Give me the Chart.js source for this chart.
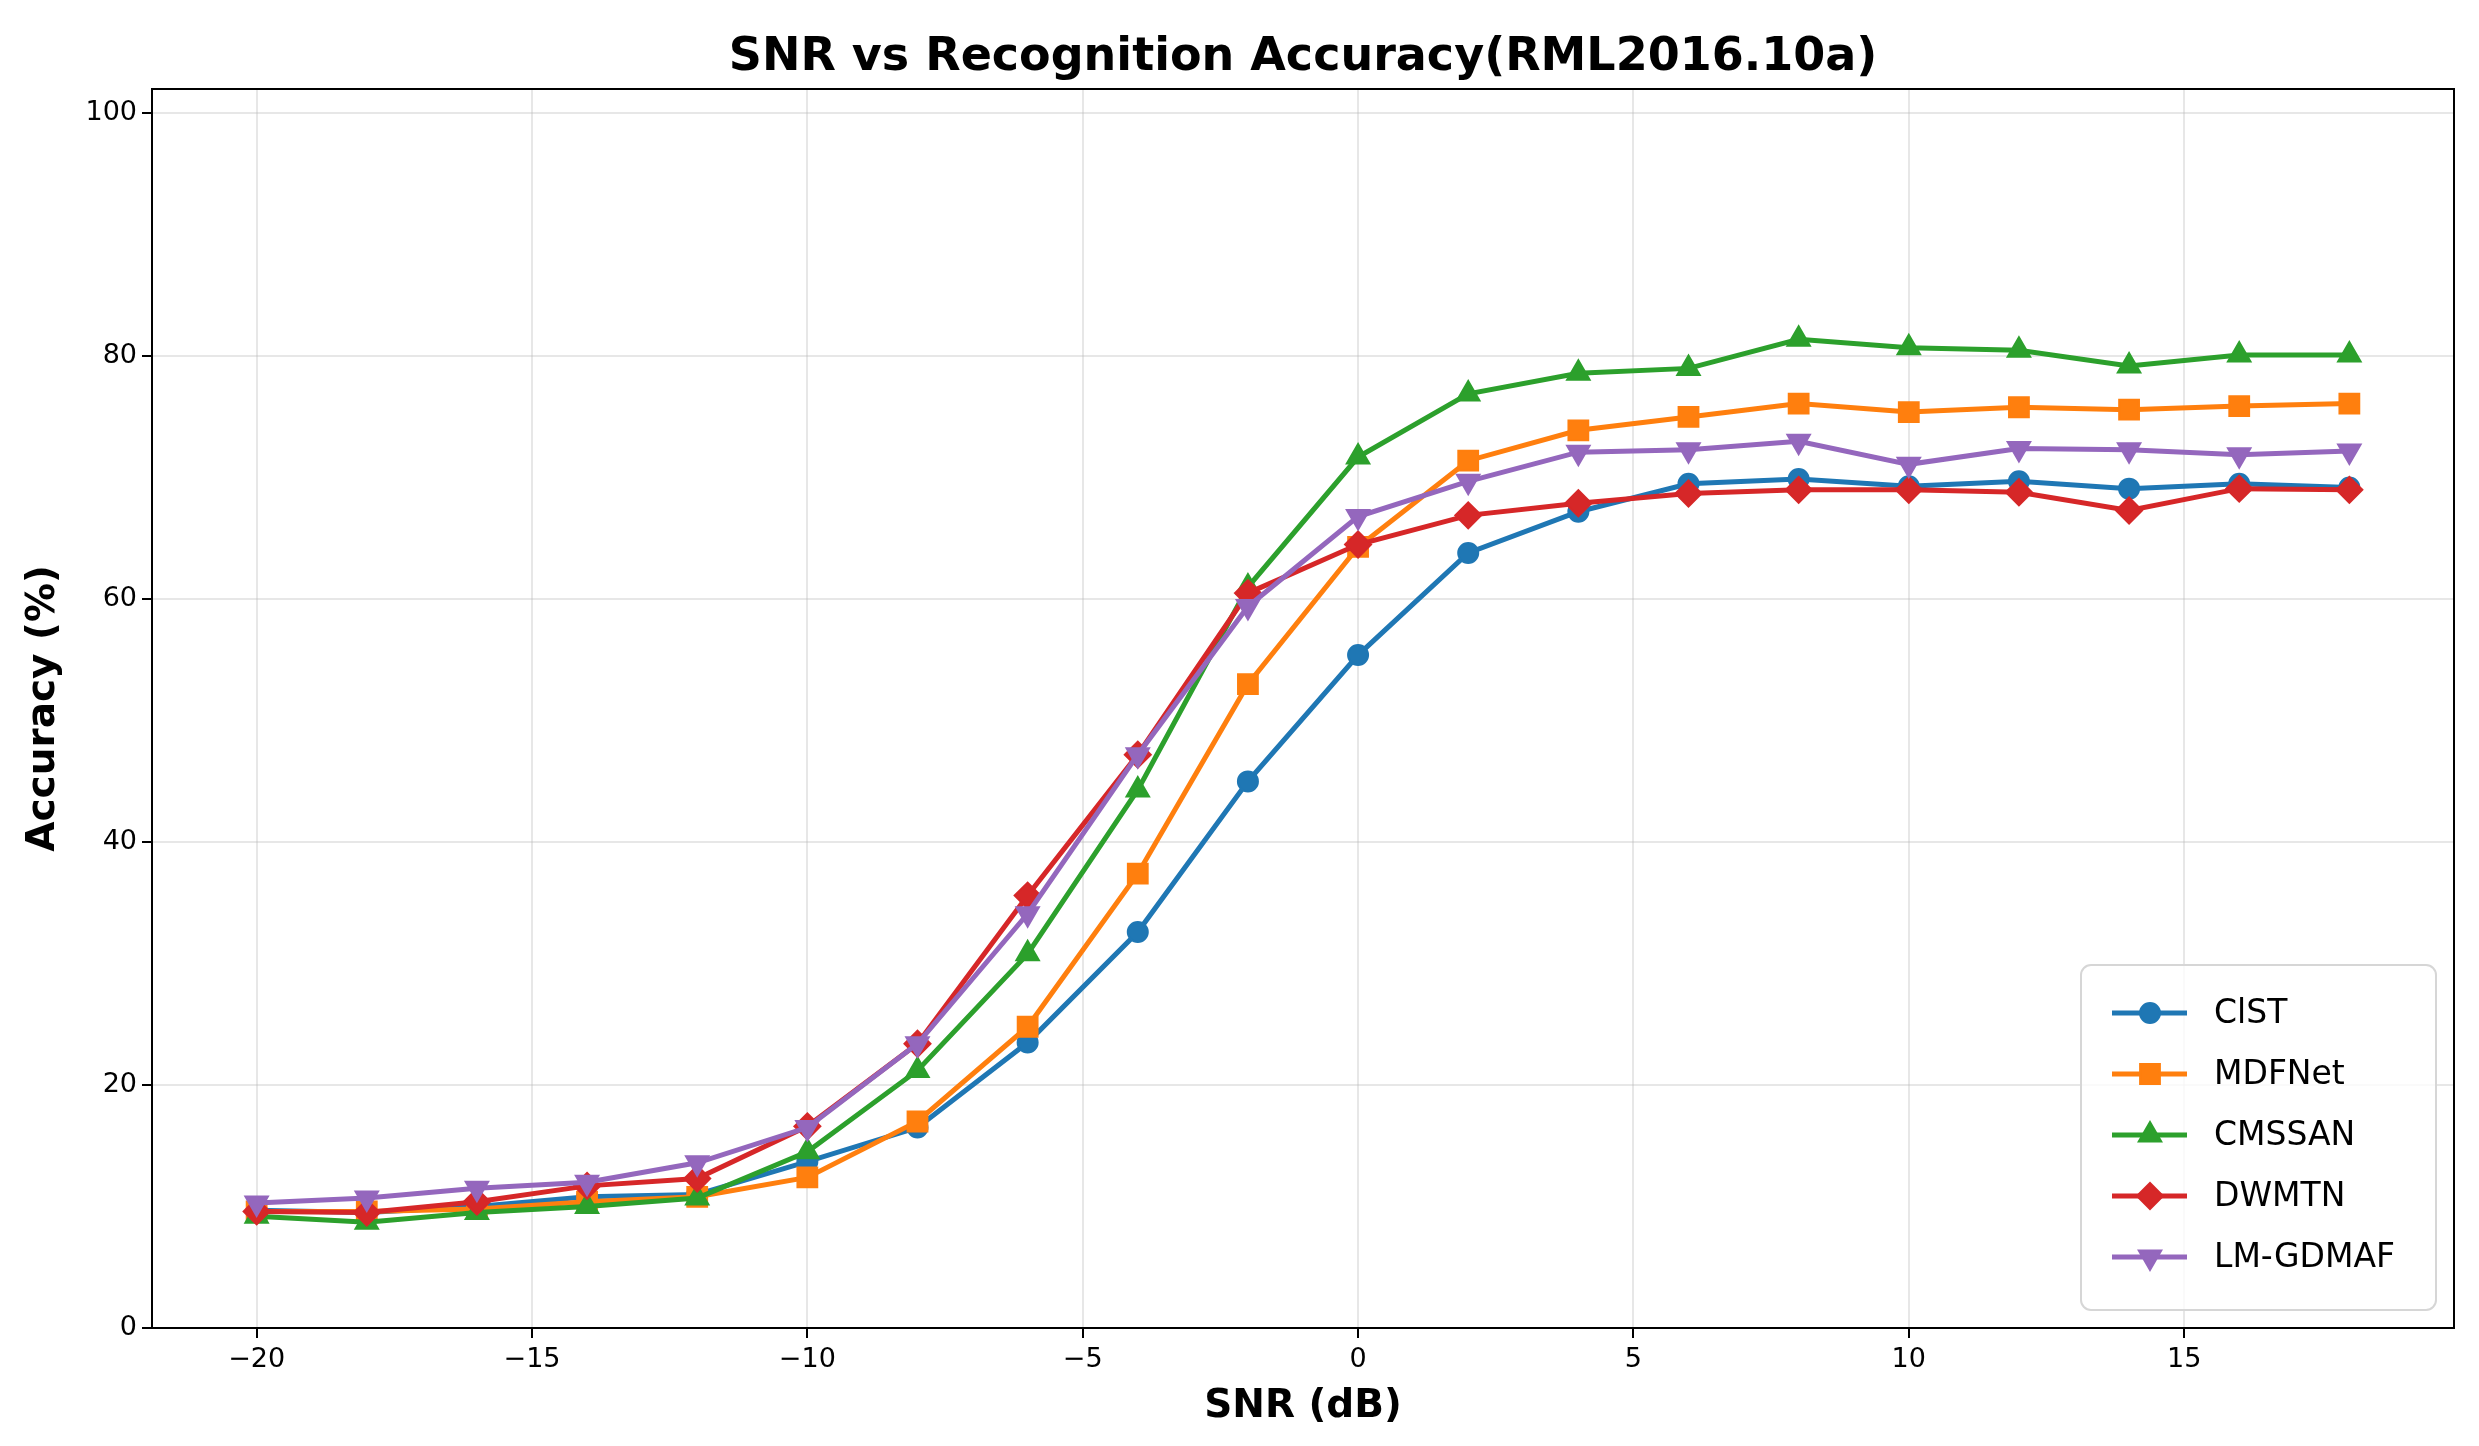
<!DOCTYPE html>
<html>
<head>
<meta charset="utf-8">
<title>SNR vs Recognition Accuracy</title>
<script src="https://cdn.jsdelivr.net/npm/chart.js@4.4.1/dist/chart.umd.min.js"></script>
<style>
	html, body { margin: 0; padding: 0; background: #fff; }
	canvas { display: block; }
</style>
</head>
<body>
<canvas id="acc-chart" width="2479" height="1446"></canvas>
<script>
// SNR points (dB)
const snr = [-20, -18, -16, -14, -12, -10, -8, -6, -4, -2, 0, 2, 4, 6, 8, 10, 12, 14, 16, 18];

// accuracy (%) per model
const cist    = [9.7, 9.5, 10.0, 10.8, 11.0, 13.7, 16.5, 23.5, 32.6, 45.0, 55.4, 63.8, 67.2, 69.5, 69.9, 69.3, 69.7, 69.1, 69.5, 69.2];
const mdfnet  = [9.6, 9.6, 9.8, 10.4, 10.8, 12.4, 17.0, 24.8, 37.4, 53.0, 64.3, 71.4, 73.9, 75.0, 76.1, 75.4, 75.8, 75.6, 75.9, 76.1];
const cmssan  = [9.2, 8.7, 9.5, 10.0, 10.7, 14.5, 21.2, 30.8, 44.3, 61.0, 71.7, 76.9, 78.6, 79.0, 81.4, 80.7, 80.5, 79.2, 80.1, 80.1];
const dwmtn   = [9.6, 9.5, 10.4, 11.7, 12.3, 16.6, 23.4, 35.6, 47.2, 60.5, 64.5, 66.9, 67.9, 68.7, 69.0, 69.0, 68.8, 67.3, 69.1, 69.0];
const lmgdmaf = [10.3, 10.7, 11.5, 12.0, 13.6, 16.5, 23.4, 34.1, 47.2, 59.4, 66.8, 69.7, 72.1, 72.3, 73.0, 71.1, 72.4, 72.3, 71.9, 72.2];

const xTicks = [-20, -15, -10, -5, 0, 5, 10, 15];
const yTicks = [0, 20, 40, 60, 80, 100];

const FONT = "'DejaVu Sans', 'Liberation Sans', sans-serif";

const toPoints = (vals) => snr.map((s, i) => ({ x: s, y: vals[i] }));

function series(label, vals, color, style, radius, rotation, order) {
	return {
		label: label,
		data: toPoints(vals),
		borderColor: color,
		backgroundColor: color,
		borderWidth: 5,
		pointStyle: style,
		pointRadius: radius,
		pointRotation: rotation,
		pointBackgroundColor: color,
		pointBorderColor: color,
		pointBorderWidth: 2,
		tension: 0,
		order: order
	};
}

// black box round the plot, like matplotlib spines
const frame = {
	id: 'frame',
	afterDatasetsDraw(chart) {
		const { ctx, chartArea: a } = chart;
		ctx.save();
		ctx.strokeStyle = '#000';
		ctx.lineWidth = 2;
		ctx.strokeRect(a.left, a.top, a.right - a.left, a.bottom - a.top);
		ctx.restore();
	}
};

// title centred over the plot area
const plotTitle = {
	id: 'plotTitle',
	afterDraw(chart) {
		const { ctx, chartArea: a } = chart;
		ctx.save();
		ctx.fillStyle = '#000';
		ctx.font = 'bold 46px ' + FONT;
		ctx.textAlign = 'center';
		ctx.textBaseline = 'middle';
		ctx.fillText('SNR vs Recognition Accuracy(RML2016.10a)', (a.left + a.right) / 2, 58);
		ctx.restore();
	}
};

// legend box in the lower right corner of the plot
const boxLegend = {
	id: 'boxLegend',
	afterDraw(chart) {
		const { ctx, chartArea: a } = chart;
		const boxW = 355, boxH = 345, rowH = 61;
		const x0 = a.right - 18 - boxW;
		const y0 = a.bottom - 18 - boxH;
		ctx.save();
		ctx.beginPath();
		if (ctx.roundRect) ctx.roundRect(x0, y0, boxW, boxH, 10);
		else ctx.rect(x0, y0, boxW, boxH);
		ctx.fillStyle = 'rgba(255,255,255,0.8)';
		ctx.fill();
		ctx.strokeStyle = '#d6d6d6';
		ctx.lineWidth = 2;
		ctx.stroke();

		chart.data.datasets.forEach((ds, i) => {
			const cy = y0 + 48 + i * rowH;
			ctx.strokeStyle = ds.borderColor;
			ctx.lineWidth = 5;
			ctx.beginPath();
			ctx.moveTo(x0 + 31, cy);
			ctx.lineTo(x0 + 106, cy);
			ctx.stroke();
			ctx.fillStyle = ds.borderColor;
			ctx.lineWidth = ds.pointBorderWidth;
			Chart.helpers.drawPoint(ctx, {
				pointStyle: ds.pointStyle,
				radius: ds.pointRadius,
				rotation: ds.pointRotation,
				borderWidth: ds.pointBorderWidth
			}, x0 + 69, cy);
			ctx.fillStyle = '#000';
			ctx.font = '33px ' + FONT;
			ctx.textAlign = 'left';
			ctx.textBaseline = 'middle';
			ctx.fillText(ds.label, x0 + 133, cy + 1);
		});
		ctx.restore();
	}
};

const minus = (v) => String(v).replace('-', '\u2212');

new Chart(document.getElementById('acc-chart'), {
	type: 'line',
	data: {
		datasets: [
			series('ClST', cist, '#1f77b4', 'circle', 10, 0, 5),
			series('MDFNet', mdfnet, '#ff7f0e', 'rect', 14, 0, 4),
			series('CMSSAN', cmssan, '#2ca02c', 'triangle', 13, 0, 3),
			series('DWMTN', dwmtn, '#d62728', 'rectRot', 13, 0, 2),
			series('LM-GDMAF', lmgdmaf, '#9467bd', 'triangle', 13, 180, 1)
		]
	},
	options: {
		responsive: false,
		animation: false,
		layout: { padding: { top: 89, right: 25, left: 0, bottom: 0 } },
		plugins: {
			legend: { display: false },
			tooltip: { enabled: false },
			title: { display: false }
		},
		scales: {
			x: {
				type: 'linear',
				min: -21.9,
				max: 19.9,
				afterBuildTicks: (scale) => { scale.ticks = xTicks.map(v => ({ value: v })); },
				afterFit: (scale) => { scale.height = 118; },
				ticks: {
					color: '#000',
					font: { family: FONT, size: 27 },
					padding: 6,
					maxRotation: 0,
					callback: (v) => minus(v)
				},
				grid: {
					color: 'rgba(176,176,176,0.3)',
					lineWidth: 2,
					tickColor: '#000',
					tickLength: 10
				},
				border: { color: '#000', width: 2 },
				title: {
					display: true,
					text: 'SNR (dB)',
					color: '#000',
					font: { family: FONT, size: 39, weight: 'bold' },
					padding: { top: 0, bottom: 16 }
				}
			},
			y: {
				type: 'linear',
				min: 0,
				max: 102,
				afterBuildTicks: (scale) => { scale.ticks = yTicks.map(v => ({ value: v })); },
				afterFit: (scale) => { scale.width = 152; },
				ticks: {
					color: '#000',
					font: { family: FONT, size: 27 },
					padding: 5
				},
				grid: {
					color: 'rgba(176,176,176,0.3)',
					lineWidth: 2,
					tickColor: '#000',
					tickLength: 10
				},
				border: { color: '#000', width: 2 },
				title: {
					display: true,
					text: 'Accuracy (%)',
					color: '#000',
					font: { family: FONT, size: 39, weight: 'bold' },
					padding: { top: 20, bottom: 0 }
				}
			}
		}
	},
	plugins: [frame, plotTitle, boxLegend]
});
</script>
</body>
</html>
